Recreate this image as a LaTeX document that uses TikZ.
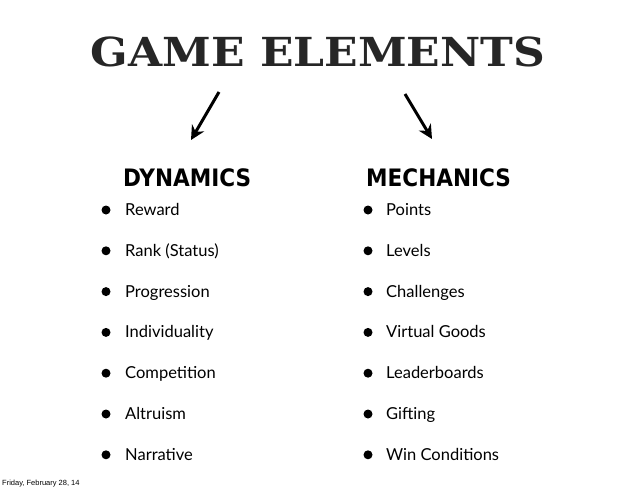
\documentclass[tikz,border=0pt]{standalone}
\usetikzlibrary{arrows.meta}
\usepackage{fontspec}
\setmainfont{Lato}
\newfontfamily\titlefont{DejaVu Serif}
\newfontfamily\headfont{DejaVu Sans Condensed}
\newfontfamily\footfont{Liberation Sans}
\begin{document}
\begin{tikzpicture}[x=1pt,y=-1pt,
  item/.style={anchor=base west,font=\fontsize{16.5}{18}\selectfont,inner sep=0},
  bul/.style={circle,fill=black,inner sep=0,minimum size=9},
  head/.style={anchor=base west,inner sep=0,font=\headfont\bfseries\fontsize{24}{26}\selectfont},
  arr/.style={line width=3,-{Stealth[length=14,width=14]}}]
\useasboundingbox (0,0) rectangle (638,491);
\node[inner sep=0,text=black!85,font=\titlefont\bfseries\fontsize{40}{44}\selectfont,xscale=1.1] (title) at (318,52) {GAME ELEMENTS};
\coordinate (a1) at (219,92); \coordinate (a2) at (191,140);
\coordinate (b1) at (405,94); \coordinate (b2) at (432,139);
\draw[arr] (a1) -- (a2);
\draw[arr] (b1) -- (b2);
\node[head] (dyn) at (123,186) {DYNAMICS};
\node[head] (mec) at (366,186) {MECHANICS};
\foreach \t [count=\i] in {Reward,Rank (Status),Progression,Individuality,Competition,Altruism,Narrative}{
  \node[bul] (db\i) at (106,{210+40.8*(\i-1)}) {};
  \node[item] (d\i) at (125,{215.5+40.8*(\i-1)}) {\t};
}
\foreach \t [count=\i] in {Points,Levels,Challenges,Virtual Goods,Leaderboards,Gifting,Win Conditions}{
  \node[bul] (mb\i) at (368,{210+40.8*(\i-1)}) {};
  \node[item] (m\i) at (386,{215.5+40.8*(\i-1)}) {\t};
}
\node[anchor=west,inner sep=0,font=\footfont\fontsize{7.5}{8}\selectfont] (foot) at (2,484) {Friday, February 28, 14};
\end{tikzpicture}
\end{document}
